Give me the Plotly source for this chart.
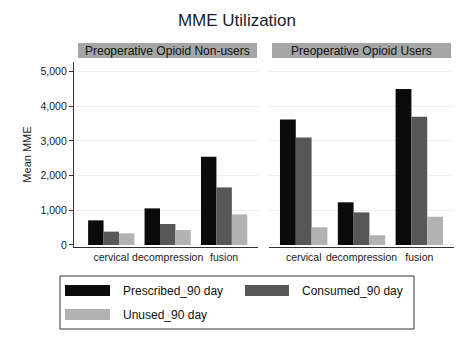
import plotly.graph_objects as go

categories = ["cervical", "decompression", "fusion"]
panels = ["Preoperative Opioid Non-users", "Preoperative Opioid Users"]
series_names = ["Prescribed_90 day", "Consumed_90 day", "Unused_90 day"]
nonusers_prescribed = [710, 1055, 2545]
nonusers_consumed = [385, 605, 1660]
nonusers_unused = [335, 430, 880]
users_prescribed = [3620, 1230, 4495]
users_consumed = [3100, 940, 3695]
users_unused = [510, 280, 815]
y_ticks = [0, 1000, 2000, 3000, 4000, 5000]
colors = ["#0b0b0b", "#575757", "#b2b2b2"]

W, H = 474, 345
def px(x): return x / W
def py(y): return 1 - y / H

fig = go.Figure()
data = [[nonusers_prescribed, nonusers_consumed, nonusers_unused],
        [users_prescribed, users_consumed, users_unused]]
for p, axes in enumerate([("x", "y"), ("x2", "y2")]):
    for s in range(3):
        fig.add_trace(go.Bar(x=categories, y=data[p][s], name=series_names[s],
                             marker=dict(color=colors[s], line=dict(width=0)),
                             xaxis=axes[0], yaxis=axes[1], showlegend=False))

yr = [-58, 5274]
font = "Liberation Sans, Arial, sans-serif"
fig.update_layout(
    width=W, height=H, margin=dict(l=0, r=0, t=0, b=0),
    paper_bgcolor="white", plot_bgcolor="white",
    barmode="group", bargap=0.18, bargroupgap=0,
    font=dict(family=font, color="#1a1a1a", size=11),
    xaxis=dict(domain=[px(74), px(258)], range=[-0.66, 2.6], showline=True,
               linecolor="#333", linewidth=1.2, ticks="", tickangle=0,
               tickfont=dict(size=10.5), automargin=False),
    yaxis=dict(domain=[py(247), py(62)], range=yr, tickvals=y_ticks, tickformat=",",
               showline=True, linecolor="#333", linewidth=1.2, ticks="outside",
               ticklen=4, tickcolor="#333", showgrid=True, gridcolor="#efefef",
               zeroline=False, tickfont=dict(size=10.5), automargin=False,
               title=dict(text="Mean MME", font=dict(size=11), standoff=6)),
    xaxis2=dict(domain=[px(269), px(454)], range=[-0.6, 2.6], showline=True,
                linecolor="#333", linewidth=1.2, ticks="", tickangle=0,
                tickfont=dict(size=10.5), automargin=False),
    yaxis2=dict(domain=[py(247), py(62)], range=yr, tickvals=y_ticks, anchor="x2",
                showticklabels=False, showline=False, showgrid=True,
                gridcolor="#efefef", zeroline=False),
    title=dict(text="MME Utilization", x=0.5, xanchor="center", y=py(20),
               yanchor="middle", font=dict(size=17, color="#1c1c2a")),
)

# panel strips
for (x0, x1), label in zip([(78, 257), (272, 451)], panels):
    fig.add_shape(type="rect", xref="paper", yref="paper", x0=px(x0), x1=px(x1),
                  y0=py(58), y1=py(43), fillcolor="#a6a6a6", line=dict(width=0))
    fig.add_annotation(text=label, xref="paper", yref="paper", x=px((x0 + x1) / 2),
                       y=py(50.5), showarrow=False, font=dict(size=12, color="#111"),
                       xanchor="center", yanchor="middle")

# legend box
fig.add_shape(type="rect", xref="paper", yref="paper", x0=px(60), x1=px(414),
              y0=py(329), y1=py(276), line=dict(color="#333", width=1),
              fillcolor="white")
leg = [(65, 110, 290.5, 121), (245, 289, 290.5, 300), (65, 110, 314.5, 121)]
for (sx0, sx1, yc, tx), name, c in zip(leg, series_names, colors):
    fig.add_shape(type="rect", xref="paper", yref="paper", x0=px(sx0), x1=px(sx1),
                  y0=py(yc + 5.5), y1=py(yc - 5.5), fillcolor=c, line=dict(width=0))
    fig.add_annotation(text=name, xref="paper", yref="paper", x=px(tx), y=py(yc),
                       showarrow=False, xanchor="left", yanchor="middle",
                       font=dict(size=12, color="#111"))

fig.write_html("out.html")
